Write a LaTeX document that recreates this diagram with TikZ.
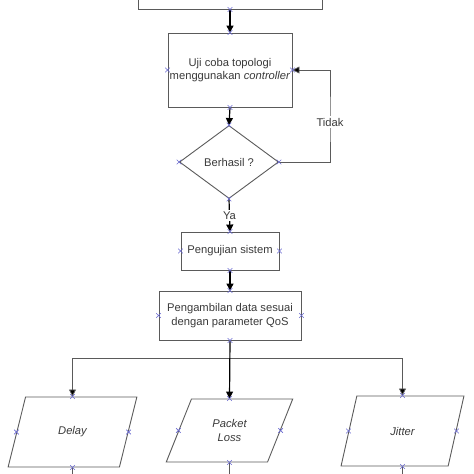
\documentclass[tikz,border=0pt]{standalone}
\usepackage{fontspec}
\setmainfont{Liberation Sans}
\usetikzlibrary{positioning,shapes.geometric,shapes.misc,arrows.meta}

\definecolor{garis}{HTML}{5A5A5A}
\definecolor{teks}{HTML}{3A3A3A}
\definecolor{titik}{HTML}{6A6AD0}

\tikzset{
  kotak/.style={draw=garis, line width=0.9pt, rectangle, align=center, inner sep=0pt, text=teks},
  cek/.style={draw=garis, line width=0.9pt, diamond, inner sep=0pt, text=teks},
  data/.style={draw=garis, line width=0.9pt, trapezium, trapezium left angle=63, trapezium right angle=117,
    trapezium stretches=true, inner sep=0pt, align=center, text=teks, font=\itshape\fontsize{11.2}{14}\selectfont},
  panah/.style={draw=black, line width=1.2pt, -{Triangle[length=7pt,width=7pt]}},
  belok/.style={draw=garis, line width=0.8pt, -{Triangle[length=7pt,width=7pt,fill=black]}},
  garisan/.style={draw=garis, line width=0.8pt},
  ket/.style={fill=white, inner sep=1.5pt, text=teks},
  cp/.style={cross out, draw=titik, line width=0.6pt, minimum size=4pt, inner sep=0pt}
}

\begin{document}
\begin{tikzpicture}[x=1pt, y=-1pt, font=\fontsize{11.2}{13.5}\selectfont]
    \useasboundingbox (0,0) rectangle (474,474);
    \clip (0,0) rectangle (474,474);
    % Proses
    \node[kotak, minimum width=184pt, minimum height=40pt] (mulai) at (230,-11) {};
    \node[kotak, minimum width=124pt, minimum height=74pt] (uji) at (230,70)
      {Uji coba topologi\\menggunakan \textit{controller}};
    \node[cek, minimum width=99pt, minimum height=73pt] (berhasil) at (229,162) {Berhasil ?};
    \node[kotak, minimum width=98pt, minimum height=38pt] (tes) at (230,251) {Pengujian sistem};
    \node[kotak, minimum width=142pt, minimum height=49pt] (ambil) at (230,315.5)
      {Pengambilan data sesuai\\dengan parameter QoS};
    % Parameter QoS
    \node[data, minimum width=129pt, minimum height=70pt] (delay) at (72.5,432) {Delay};
    \node[data, minimum width=127pt, minimum height=63pt] (loss) at (229.5,430.5) {Packet\\Loss};
    \node[data, minimum width=123pt, minimum height=70pt] (jitter) at (402.5,431) {Jitter};
    % Titik bantu
    \coordinate (balik) at (330,122);
    \coordinate (cabang) at (230,358);
    \foreach \n in {delay, loss, jitter} {
      \coordinate (\n-bawah) at ([yshift=-20pt]\n.south);
    }
    % Alur
    \draw[panah] (mulai.south) -- (uji.north);
    \draw[panah] (uji.south) -- (berhasil.north);
    \draw[belok] (berhasil.east) -| (balik) |- (uji.east);
    \node[ket] at (balik) {Tidak};
    \draw[panah] (berhasil.south) -- node[ket] {Ya} (tes.north);
    \draw[panah] (tes.south) -- (ambil.north);
    \draw[belok] (cabang) -| (delay.north);
    \draw[belok] (cabang) -| (jitter.north);
    \draw[panah] (ambil.south) -- (loss.north);
    \foreach \n in {delay, loss, jitter} {
      \draw[garisan] (\n.south) -- (\n-bawah);
    }
    % Titik sambung
    \node[cp] at (mulai.south) {};
    \foreach \n in {uji, berhasil, tes, ambil, delay, loss, jitter}
      \foreach \a in {north, south, east, west}
        \node[cp] at (\n.\a) {};
  \end{tikzpicture}
\end{document}
